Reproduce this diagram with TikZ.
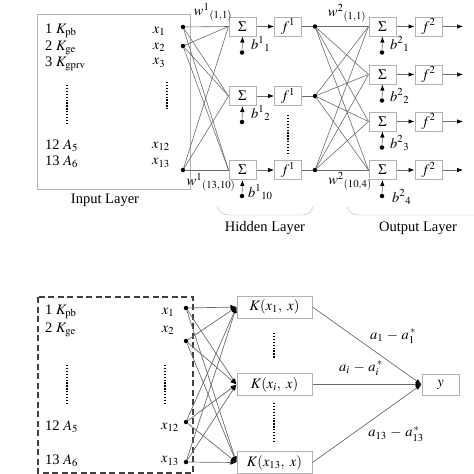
\documentclass[tikz,border=0pt]{standalone}
\usepackage{amsmath}
\usepackage{mathptmx}
\usepackage{fontspec}
\setmainfont{Liberation Serif}
\usetikzlibrary{calc,arrows.meta}
\tikzset{
	unit/.style={draw=gray!60, line width=1pt, minimum width=27pt, minimum height=19pt, inner sep=0pt},
	kbox/.style={draw=gray!60, line width=1pt, minimum width=75pt, minimum height=22pt, inner sep=0pt},
	dot/.style={circle, fill=black, inner sep=0pt, minimum size=4.5pt},
	link/.style={draw=gray!85!black, line width=0.6pt},
	arr/.style={draw=gray!85!black, line width=0.7pt, -{Latex[length=6pt,width=4.5pt,color=black]}},
	vdots/.style={line width=1.5pt, dash pattern=on 1.3pt off 1.6pt},
	frame/.style={draw=gray!60, line width=1pt},
	lab/.style={anchor=west, inner sep=0pt},
}
\begin{document}
\begin{tikzpicture}[x=1pt, y=-1pt, font=\fontsize{14.5}{16}\selectfont]
\useasboundingbox (0,0) rectangle (474,474);

% input layer
\draw[frame] (37,14) rectangle (190,189);
\node[lab] (t1) at (45,31) {1 $K_{\mathrm{pb}}$};
\node[lab] (t2) at (45,48) {2 $K_{\mathrm{ge}}$};
\node[lab] (t3) at (45,64) {3 $K_{\mathrm{gprv}}$};
\node[lab] (t12) at (45,146) {12 $A_5$};
\node[lab] (t13) at (45,162) {13 $A_6$};
\draw[vdots] (67,85) -- (67,123);
\node (x1) at (159,31) {$x_1$};
\node (x2) at (159,47) {$x_2$};
\node (x3) at (159,63) {$x_3$};
\node (x12) at (161,146) {$x_{12}$};
\node (x13) at (161,163) {$x_{13}$};
\draw[vdots] (167,82) -- (167,110);
\node at (105,200) {Input Layer};
\foreach \y/\n in {27/1,46/2,170/3}
	\node[dot] (in\n) at (183,\y) {};

% hidden layer
\foreach \y/\n in {26.5/1,96/2,170/3}{
	\node[unit] (s\n) at (242.5,\y) {$\Sigma$};
	\node[unit] (f\n) at (288,\y) {$f^{1}$};
	\node[dot] (h\n) at (315,\y) {};
	\node[dot] (bh\n) at (242,\y+26) {};
	\draw[arr] (s\n) -- (f\n);
	\draw[link] (f\n) -- (h\n);
	\draw[arr] (bh\n) -- (s\n.south);
}
\foreach \i in {1,2,3}
	\foreach \j in {1,2,3}
		\draw[link] (in\i) -- (s\j.west);
\node[lab] at (251,44) {$b^{1}{}_{1}$};
\node[lab] at (251,113) {$b^{1}{}_{2}$};
\node[lab] at (248,192) {$b^{1}{}_{10}$};
\draw[vdots] (288,115) -- (288,155);
\node at (213,12) {$w^{1}{}_{(1,1)}$};
\node at (211,182) {$w^{1}{}_{(13,10)}$};

% output layer
\foreach \y/\n in {26.5/1,74.5/2,121.5/3,170/4}{
	\node[unit] (o\n) at (382.5,\y) {$\Sigma$};
	\node[unit] (g\n) at (428.5,\y) {$f^{2}$};
	\coordinate (e\n) at (463,\y);
	\node[dot] (bo\n) at (382,\y+26) {};
	\draw[arr] (o\n) -- (g\n);
	\draw[arr] (g\n) -- (e\n);
	\draw[arr] (bo\n) -- (o\n.south);
}
\foreach \i in {1,2,3}
	\foreach \j in {1,2,3,4}
		\draw[link] (h\i) -- (o\j.west);
\node[lab] at (390,44) {$b^{2}{}_{1}$};
\node[lab] at (390,96) {$b^{2}{}_{2}$};
\node[lab] at (390,143) {$b^{2}{}_{3}$};
\node[lab] at (392,197) {$b^{2}{}_{4}$};
\node at (347,13) {$w^{2}{}_{(1,1)}$};
\node at (350,181) {$w^{2}{}_{(10,4)}$};

% braces
\draw[frame, thin] (217,207) to[out=-70,in=180] (229,215) -- (302,215) to[out=0,in=-110] (313,207);
\draw[frame, thin] (347,207) to[out=-70,in=180] (359,215) -- (474,215);
\node at (265,228) {Hidden Layer};
\node at (418,228) {Output Layer};

% kernel network
\draw[draw=black!75, line width=1.2pt, dash pattern=on 6pt off 3.5pt] (38,297) rectangle (193,473);
\node[lab] (u1) at (45,312) {1 $K_{\mathrm{pb}}$};
\node[lab] (u2) at (45,330) {2 $K_{\mathrm{ge}}$};
\node[lab] (u12) at (45,427) {12 $A_5$};
\node[lab] (u13) at (45,461) {13 $A_6$};
\draw[vdots] (67,365) -- (67,403);
\node (z1) at (168,312) {$x_1$};
\node (z2) at (168,330) {$x_2$};
\node (z12) at (170,427) {$x_{12}$};
\node (z13) at (170,461) {$x_{13}$};
\draw[vdots] (165,365) -- (165,403);
\foreach \y/\n in {308/1,341/2,422/3,462/4}
	\node[dot] (p\n) at (186,\y) {};
\node[kbox] (k1) at (274.5,307) {$K(x_1,\ x)$};
\node[kbox] (k2) at (274.5,384.5) {$K(x_i,\ x)$};
\node[kbox] (k3) at (274.5,462.5) {$K(x_{13},\ x)$};
\foreach \i in {1,2,3,4}
	\foreach \j in {1,2,3}
		\draw[arr] (p\i) -- (k\j.west);
\draw[vdots] (274,333) -- (274,358);
\draw[vdots] (274,403) -- (274,443);
\node[unit, minimum width=37pt, minimum height=21pt] (out) at (440.5,384.5) {$y$};
\foreach \j in {1,2,3}
	\draw[arr] (k\j.east) -- (out.west);
\node at (393,336) {$a_1 \,-\, a_1^{\,*}$};
\node at (361,368) {$a_i \,-\, a_i^{\,*}$};
\node at (396,434) {$a_{13} \,-\, a_{13}^{\,*}$};
\end{tikzpicture}
\end{document}
